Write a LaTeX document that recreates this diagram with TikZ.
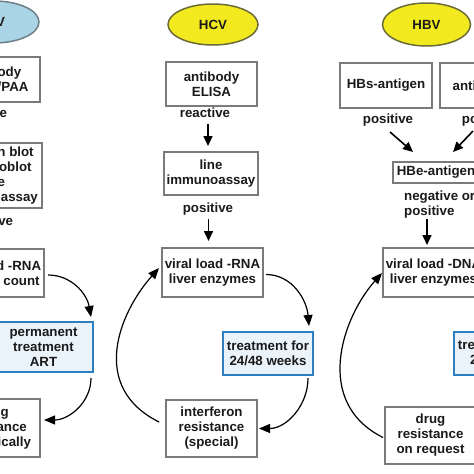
\documentclass[tikz,border=0pt]{standalone}
\usepackage{fontspec}
\setmainfont{Liberation Sans}
\usetikzlibrary{shapes.geometric,arrows.meta}
\definecolor{txt}{HTML}{1A1A1A}
\definecolor{boxgray}{HTML}{7A7A7A}
\definecolor{bluebd}{HTML}{2F7FC0}
\definecolor{bluefill}{HTML}{EAF3FA}
\definecolor{hivfill}{HTML}{A9D4E6}
\definecolor{hivbd}{HTML}{6F7F88}
\definecolor{yfill}{HTML}{F2EA1E}
\definecolor{ybd}{HTML}{6B6B3A}
\begin{document}
\begin{tikzpicture}[x=1pt,y=1pt,
  every node/.style={font=\fontsize{13.3}{15}\selectfont\bfseries, text=txt},
  gbox/.style={draw=boxgray, line width=2pt, fill=white, align=center, inner sep=0pt},
  bbox/.style={draw=bluebd, line width=2pt, fill=bluefill, align=center, inner sep=0pt},
  ellhiv/.style={ellipse, draw=hivbd, line width=1.5pt, fill=hivfill, inner sep=0pt, minimum width=90pt, minimum height=42pt},
  elly/.style={ellipse, draw=ybd, line width=1.5pt, fill=yfill, inner sep=0pt, minimum width=90pt, minimum height=41pt},
  lbl/.style={inner sep=1pt},
  arr/.style={-{Triangle[length=10pt,width=9pt]}, line width=1.6pt, draw=black},
  carr/.style={-{Triangle[length=11pt,width=9pt]}, line width=1.2pt, draw=black}]
\useasboundingbox (0,0) rectangle (474,-474);
\clip (0,0) rectangle (474,-474);
\fill[white] (0,0) rectangle (474,-474);

% ---------------- HIV ----------------
\node[ellhiv] (hiv) at (-6,-22) {HIV};
\node[gbox, minimum width=92pt, minimum height=45pt] (a1) at (-6.5,-79.5) {antibody\\ELISA/PAA};
\node[lbl] (a1r) at (-18,-113) {reactive};
\node[gbox, minimum width=97pt, minimum height=65pt] (a2) at (-6.5,-175.5) {Western blot\\Immunoblot\\line\\immunoassay};
\node[lbl] (a2p) at (-12,-222) {positive};
\node[gbox, minimum width=101pt, minimum height=48pt] (a3) at (-6.5,-273) {viral load -RNA\\CD4 cell count};
\node[bbox, minimum width=99pt, minimum height=50pt] (a4) at (43.5,-347) {permanent\\treatment\\ART};
\node[gbox, minimum width=92pt, minimum height=58pt] (a5) at (-6,-428) {drug\\resistance\\periodically};
\draw[arr] ([xshift=-6pt,yshift=19pt]a2.north) -- ([xshift=-6pt,yshift=4pt]a2.north);
\draw[arr] ([xshift=-6pt,yshift=18pt]a3.north) -- ([xshift=-6pt,yshift=4pt]a3.north);
\draw[carr] ([xshift=3pt,yshift=-2pt]a3.east) to[out=0,in=100] ([xshift=-3pt,yshift=4pt]a4.north east);
\draw[carr] ([xshift=-3pt,yshift=-5pt]a4.south east) to[out=-90,in=0] ([xshift=3pt,yshift=8pt]a5.east);
\draw[carr] ([xshift=-6pt,yshift=6.5pt]a5.west) .. controls +(-70,35) and +(-40,-45) .. ([xshift=-2pt,yshift=4.5pt]a3.west);

% ---------------- HCV ----------------
\node[elly] (hcv) at (213,-24.5) {HCV};
\node[gbox, minimum width=91pt, minimum height=44pt] (h1) at (211.5,-84) {antibody\\ELISA};
\node[lbl] (h1r) at (205,-113) {reactive};
\node[gbox, minimum width=94pt, minimum height=43pt] (h2) at (211,-173.5) {line\\immunoassay};
\node[lbl] (h2p) at (208,-209) {positive};
\node[gbox, minimum width=101pt, minimum height=49pt] (h3) at (212.5,-272.5) {viral load -RNA\\liver enzymes};
\node[bbox, minimum width=90pt, minimum height=43pt] (h4) at (268,-353.5) {treatment for\\24/48 weeks};
\node[gbox, minimum width=91pt, minimum height=57pt] (h5) at (211.5,-428.5) {interferon\\resistance\\(special)};
\draw[arr] ([xshift=-3pt,yshift=27pt]h2.north) -- ([xshift=-3pt,yshift=5pt]h2.north);
\draw[arr] ([xshift=-4pt,yshift=28pt]h3.north) -- ([xshift=-4pt,yshift=6pt]h3.north);
\draw[carr] ([xshift=2pt,yshift=-2pt]h3.east) to[out=0,in=95] ([xshift=-5pt,yshift=5pt]h4.north east);
\draw[carr] ([xshift=-6pt,yshift=-2pt]h4.south east) to[out=-90,in=0] ([xshift=1pt]h5.east);
\draw[carr] ([xshift=-6pt,yshift=6.5pt]h5.west) .. controls +(-70,35) and +(-40,-45) .. ([xshift=-2pt,yshift=4.5pt]h3.west);

% ---------------- HBV ----------------
\node[elly, minimum width=88pt, minimum height=43pt] (hbv) at (426.5,-24.5) {HBV};
\node[gbox, minimum width=92pt, minimum height=45pt] (v1) at (386,-85.5) {HBs-antigen};
\node[gbox, minimum width=80pt, minimum height=45pt] (v2) at (480,-85.5) {anti-HBc};
\node[lbl] (v1p) at (388,-120) {positive};
\node[lbl] (v2p) at (487,-120) {positive};
\node[gbox, minimum width=87pt, minimum height=21pt] (v3) at (436,-172) {HBe-antigen};
\node[lbl, align=left, anchor=west] (v3n) at (403,-204.5) {negative or\\positive};
\node[gbox, minimum width=101pt, minimum height=49pt] (v4) at (433.5,-272.5) {viral load -DNA\\liver enzymes};
\node[bbox, minimum width=90pt, minimum height=43pt] (v5) at (499,-353.5) {treatment for\\2-5 years};
\node[gbox, minimum width=91pt, minimum height=57pt] (v6) at (430.5,-435.5) {drug\\resistance\\on request};
\draw[arr] ([xshift=-46pt,yshift=28.5pt]v3.north) -- ([xshift=-23pt,yshift=8.5pt]v3.north);
\draw[arr] ([xshift=37pt,yshift=29.5pt]v3.north) -- ([xshift=17pt,yshift=8.5pt]v3.north);
\draw[arr] ([xshift=-6.5pt,yshift=28pt]v4.north) -- ([xshift=-6.5pt,yshift=2pt]v4.north);
\draw[carr] (v4.east) to[out=0,in=95] ([xshift=-5pt,yshift=5pt]v5.north east);
\draw[carr] ([xshift=-6pt,yshift=-2pt]v5.south east) to[out=-90,in=0] (v6.east);
\draw[carr] ([xshift=-1pt,yshift=-2pt]v6.west) .. controls +(-70,35) and +(-40,-45) .. ([yshift=-0.5pt]v4.west);
\end{tikzpicture}
\end{document}
